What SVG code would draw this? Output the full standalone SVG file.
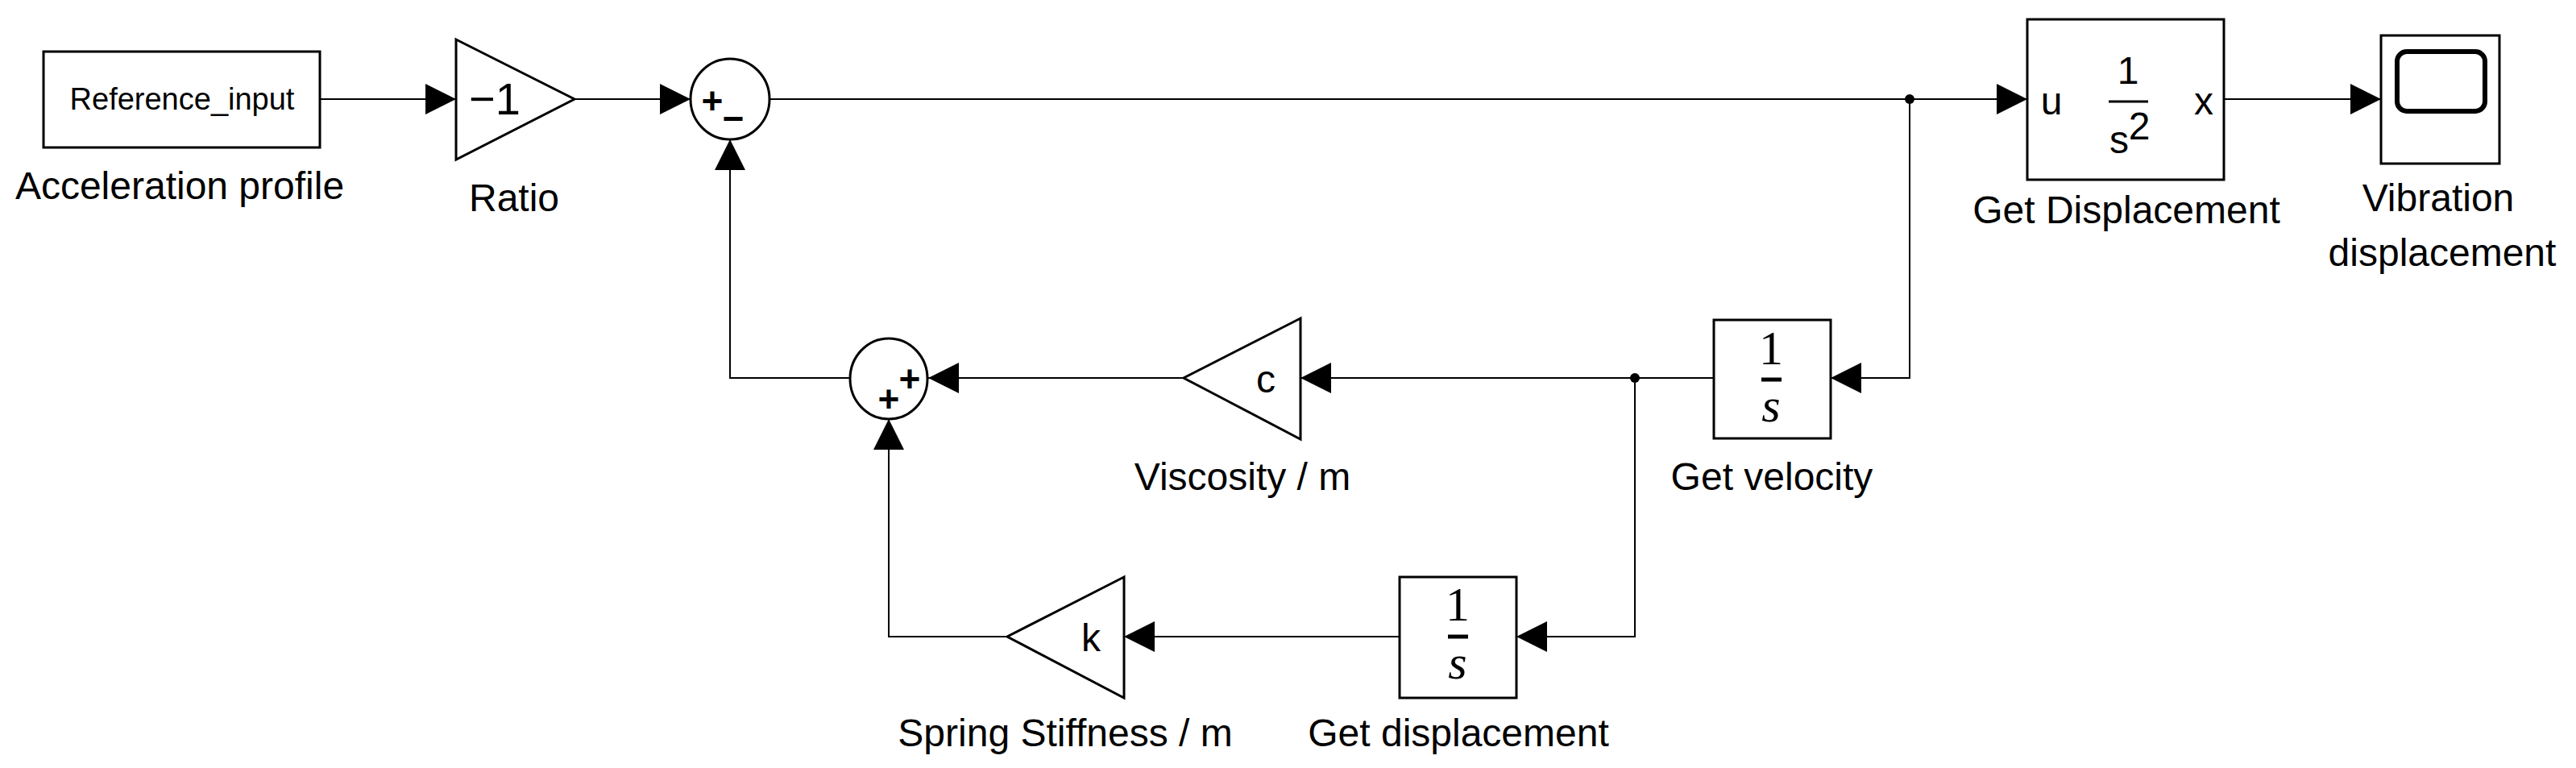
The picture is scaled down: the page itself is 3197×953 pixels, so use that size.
<svg xmlns="http://www.w3.org/2000/svg" width="3197" height="953" viewBox="0 0 3197 953">
<style>
.blk{fill:#fff;stroke:#000;stroke-width:3}
.ln{fill:none;stroke:#000;stroke-width:2;marker-end:url(#ah)}
text{font-family:"Liberation Sans",Arial,sans-serif;fill:#000}
.lbl{font-size:48px;text-anchor:middle}
.tm{font-family:"Liberation Serif","Times New Roman",serif;font-size:60px;text-anchor:middle}
.sg{font-size:46px;text-anchor:middle;font-weight:bold}
</style>
<defs>
<marker id="ah" markerUnits="userSpaceOnUse" markerWidth="40" markerHeight="40" refX="38" refY="19" orient="auto">
<path d="M0,0 L38,19 L0,38 z" fill="#000"/>
</marker>
</defs>
<g id="connectors">
<path class="ln" d="M397,123 H566"/>
<path class="ln" d="M713,123 H857"/>
<path class="ln" d="M955,123 H2516"/>
<path class="ln" d="M2370,123 V469 H2272"/>
<path class="ln" d="M2760,123 H2955"/>
<path class="ln" d="M2127,469 H1614"/>
<path class="ln" d="M2029,469 V790 H1882"/>
<path class="ln" d="M1469,469 H1152"/>
<path class="ln" d="M1737,790 H1395"/>
<path class="ln" d="M1250,790 H1103 V520"/>
<path class="ln" d="M1054,469 H906 V173"/>
<circle cx="2370" cy="123" r="6" fill="#000"/>
<circle cx="2029" cy="469" r="6" fill="#000"/>
</g>
<g id="reference">
<rect class="blk" x="54" y="64" width="343" height="119"/>
<text x="226" y="136" font-size="38" text-anchor="middle">Reference_input</text>
<text class="lbl" x="223" y="247">Acceleration profile</text>
</g>
<g id="ratio">
<path class="blk" d="M566,49 L713,123 L566,198 z"/>
<text x="614" y="142" font-size="56" text-anchor="middle">−1</text>
<text class="lbl" x="638" y="262">Ratio</text>
</g>
<g id="sum1">
<ellipse class="blk" cx="906" cy="123" rx="49" ry="50"/>
<text class="sg" x="884" y="141">+</text>
<text class="sg" x="910" y="163">−</text>
</g>
<g id="getDisplacementTop">
<rect class="blk" x="2516" y="24" width="244" height="199"/>
<text x="2546" y="142" font-size="48" text-anchor="middle">u</text>
<text x="2641" y="104" font-size="48" text-anchor="middle">1</text>
<line x1="2617" y1="126" x2="2666" y2="126" stroke="#000" stroke-width="3"/>
<text x="2630" y="190" font-size="48" text-anchor="middle">s</text>
<text x="2655" y="173" font-size="48" text-anchor="middle">2</text>
<text x="2735" y="142" font-size="48" text-anchor="middle">x</text>
<text class="lbl" x="2639" y="277">Get Displacement</text>
</g>
<g id="scope">
<rect class="blk" x="2955" y="44" width="147" height="159"/>
<rect x="2975" y="64" width="109" height="74" rx="12" fill="none" stroke="#000" stroke-width="6"/>
<text class="lbl" x="3026" y="262">Vibration</text>
<text class="lbl" x="3031" y="330">displacement</text>
</g>
<g id="velocity">
<rect class="blk" x="2127" y="397" width="145" height="147"/>
<text class="tm" x="2198" y="452">1</text>
<line x1="2186" y1="471" x2="2211" y2="471" stroke="#000" stroke-width="5"/>
<text class="tm" x="2198" y="523" font-style="italic">s</text>
<text class="lbl" x="2199" y="608">Get velocity</text>
</g>
<g id="viscosity">
<path class="blk" d="M1614,395 L1469,469 L1614,545 z"/>
<text x="1571" y="487" font-size="48" text-anchor="middle">c</text>
<text class="lbl" x="1542" y="608">Viscosity / m</text>
</g>
<g id="sum2">
<ellipse class="blk" cx="1103" cy="470" rx="48" ry="50"/>
<text class="sg" x="1129" y="486">+</text>
<text class="sg" x="1103" y="511">+</text>
</g>
<g id="stiffness">
<path class="blk" d="M1395,716 L1250,790 L1395,866 z"/>
<text x="1354" y="808" font-size="48" text-anchor="middle">k</text>
<text class="lbl" x="1322" y="926">Spring Stiffness / m</text>
</g>
<g id="displacement">
<rect class="blk" x="1737" y="716" width="145" height="150"/>
<text class="tm" x="1809" y="770">1</text>
<line x1="1797" y1="790" x2="1822" y2="790" stroke="#000" stroke-width="5"/>
<text class="tm" x="1809" y="842" font-style="italic">s</text>
<text class="lbl" x="1810" y="926">Get displacement</text>
</g>
</svg>
